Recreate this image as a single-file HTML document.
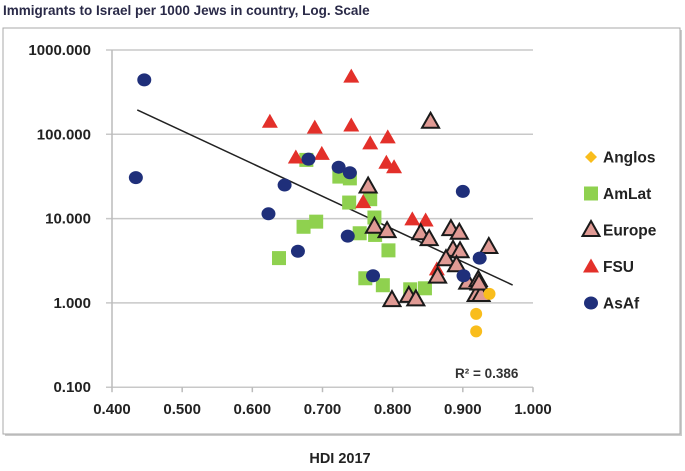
<!DOCTYPE html>
<html><head><meta charset="utf-8"><style>
body{margin:0;background:#fff;width:685px;height:466px;overflow:hidden;font-family:"Liberation Sans",sans-serif}
</style></head><body>
<svg width="685" height="466" xmlns="http://www.w3.org/2000/svg">
<text x="3" y="15" font-size="13.5" font-weight="bold" fill="#2a2a48">Immigrants to Israel per 1000 Jews in country, Log. Scale</text>
<rect x="5" y="30" width="677" height="406" fill="#9a9a9a" opacity="0.5"/>
<rect x="3" y="28" width="677" height="406" fill="#fff" stroke="#a8a8a8" stroke-width="1"/>
<g id="grid"></g>
<g id="axes"></g>
<g id="trend"></g>
<g id="marks"></g>
<g id="legend"></g>
<text x="455" y="378" font-size="13.5" font-weight="bold" fill="#333">R² = 0.386</text>
<text x="340" y="463" text-anchor="middle" font-size="14.5" font-weight="bold" fill="#222">HDI 2017</text>
</svg>
<script>
const yTicks=[1000,100,10,1,0.1];
const yTickLabels=["1000.000","100.000","10.000","1.000","0.100"];
const xTicks=[0.4,0.5,0.6,0.7,0.8,0.9,1.0];
const xTickLabels=["0.400","0.500","0.600","0.700","0.800","0.900","1.000"];
const seriesNames=["Anglos","AmLat","Europe","FSU","AsAf"];
const anglosX=[0.938,0.919,0.919];
const anglosY=[1.28,0.74,0.46];
const amlatX=[0.677,0.724,0.739,0.738,0.768,0.774,0.673,0.691,0.753,0.775,0.794,0.638,0.761,0.786,0.825,0.846];
const amlatY=[49.7,31.5,30,15.5,17,10.3,8.0,9.2,6.7,6.4,4.2,3.4,1.96,1.62,1.45,1.49];
const europeX=[0.854,0.765,0.774,0.792,0.840,0.852,0.883,0.895,0.886,0.896,0.876,0.891,0.937,0.864,0.907,0.922,0.919,0.926,0.799,0.823,0.833,0.923];
const europeY=[141,24,8.0,7.1,6.7,5.7,7.5,6.8,4.25,4.1,3.3,2.8,4.6,2.05,1.74,1.87,1.24,1.24,1.08,1.21,1.1,1.7];
const fsuX=[0.741,0.625,0.689,0.741,0.768,0.793,0.662,0.699,0.791,0.802,0.758,0.828,0.847,0.863];
const fsuY=[483,141,120,127,78,92,53,58.5,46,40.7,15.7,9.8,9.5,2.5];
const asafX=[0.446,0.434,0.646,0.623,0.680,0.723,0.739,0.665,0.736,0.772,0.900,0.924,0.901];
const asafY=[442,30.6,25,11.4,50.7,40.7,35,4.1,6.2,2.1,21,3.4,2.1];
const trendX=[0.436,0.971];
const trendA=3.983, trendB=-3.884;

const NS="http://www.w3.org/2000/svg";
const X0=112,X1=533,Y1000=50,DEC=84.3;
function xs(v){return X0+(v-0.4)/0.6*(X1-X0);}
function ys(v){return Y1000+(3-Math.log10(v))*DEC;}
function mk(tag,attrs,parent){const e=document.createElementNS(NS,tag);for(const k in attrs)e.setAttribute(k,attrs[k]);parent.appendChild(e);return e;}
const grid=document.getElementById('grid'),axes=document.getElementById('axes'),marks=document.getElementById('marks'),legend=document.getElementById('legend'),trend=document.getElementById('trend');
yTicks.forEach((t,i)=>{
  const y=ys(t);
  const l=mk('line',{x1:X0-6,x2:X1,y1:y,y2:y,stroke:'#c8c8c8','stroke-width':1.5},grid);
  
  
  const tx=mk('text',{x:91,y:y+5,'text-anchor':'end','font-size':15,'font-weight':'bold',fill:'#222'},axes);
  tx.textContent=yTickLabels[i];
  
  
});
const ax=mk('line',{x1:X0,x2:X0,y1:Y1000,y2:ys(0.1),stroke:'#bbb','stroke-width':1.5},axes);


xTicks.forEach((t,i)=>{
  const x=xs(t);
  const tk=mk('line',{x1:x,x2:x,y1:ys(0.1),y2:ys(0.1)+5,stroke:'#bbb','stroke-width':1.5},axes);
  
  
  const tx=mk('text',{x:x,y:414,'text-anchor':'middle','font-size':15,'font-weight':'bold',fill:'#222'},axes);
  tx.textContent=xTickLabels[i];
  
  
});
const tl=mk('line',{x1:xs(trendX[0]),y1:ys(Math.pow(10,trendA+trendB*trendX[0])),x2:xs(trendX[1]),y2:ys(Math.pow(10,trendA+trendB*trendX[1])),stroke:'#222','stroke-width':1.5},trend);



function drawMark(type,cx,cy,parent){
  let e;
  if(type==='circle'){e=mk('ellipse',{cx:cx,cy:cy,rx:7,ry:6.5,fill:'#1f2f7a'},parent);}
  else if(type==='dot'){e=mk('circle',{cx:cx,cy:cy,r:6,fill:'#f9bd1c'},parent);}
  else if(type==='square'){e=mk('rect',{x:cx-7,y:cy-7,width:14,height:14,fill:'#8fd14f'},parent);}
  else if(type==='tri'){e=mk('polygon',{points:`${cx},${cy-8} ${cx+8},${cy+6} ${cx-8},${cy+6}`,fill:'#e3302a'},parent);}
  else if(type==='ptri'){e=mk('polygon',{points:`${cx},${cy-9} ${cx+8.5},${cy+6} ${cx-8.5},${cy+6}`,fill:'#e09a94',stroke:'#1a1a1a','stroke-width':2},parent);}
  else if(type==='diamond'){e=mk('polygon',{points:`${cx},${cy-6} ${cx+6},${cy} ${cx},${cy+6} ${cx-6},${cy}`,fill:'#f9bd1c'},parent);}
  return e;
}
const series=[
  {name:'amlat',xs:amlatX,ys:amlatY,t:'square'},
  {name:'fsu',xs:fsuX,ys:fsuY,t:'tri'},
  {name:'europe',xs:europeX,ys:europeY,t:'ptri'},
  {name:'asaf',xs:asafX,ys:asafY,t:'circle'},
  {name:'anglos',xs:anglosX,ys:anglosY,t:'dot'}
];
series.forEach(s=>{
  s.xs.forEach((v,i)=>{
    const e=drawMark(s.t,xs(v),ys(s.ys[i]),marks);
    
    
  });
});
const legTypes=['diamond','square','ptri','tri','circle'];
seriesNames.forEach((n,i)=>{
  const y=157+i*36.5;
  const m=drawMark(legTypes[i],591,y,legend);
  
  
  const tx=mk('text',{x:603,y:y+5.5,'font-size':15.5,'font-weight':'bold',fill:'#222'},legend);
  tx.textContent=n;
  
  
});
</script>
</body></html>
